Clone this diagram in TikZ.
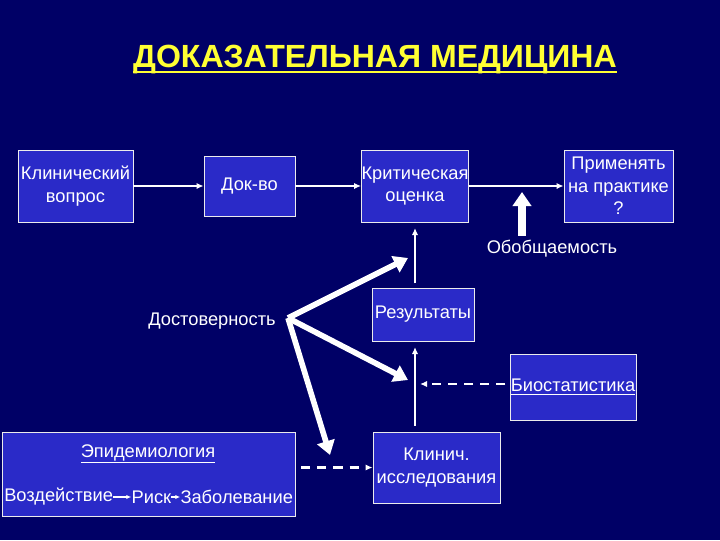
\documentclass[tikz,border=0pt]{standalone}
\usepackage{fontspec}
\setmainfont{Liberation Sans}
\usetikzlibrary{arrows.meta,positioning}
\definecolor{navybg}{HTML}{000066}
\definecolor{boxblue}{HTML}{2A2AC8}
\definecolor{titleyellow}{HTML}{FFFF33}

\begin{document}
\begin{tikzpicture}[
  x=0.025cm, y=-0.025cm,
  every node/.style={font=\fontsize{13}{16}\selectfont, text=white},
  box/.style={draw=white!85!gray, line width=0.6pt, fill=boxblue, align=center, inner sep=0pt},
  lbl/.style={inner sep=0pt},
  thin arrow/.style={white, line width=0.9pt, -{Latex[length=5pt,width=4.5pt]}},
  small arrow/.style={white, line width=0.8pt, -{Latex[length=3.5pt,width=3pt]}},
  dash arrow/.style={white, line width=1.5pt, dash pattern=on 6.5pt off 5pt, -{Latex[length=5pt,width=4.5pt]}},
  fat arrow/.style={white, line width=4pt, -{Triangle[length=10pt,width=12.5pt]}},
  big arrow/.style={white, line width=5.5pt, -{Triangle[length=10pt,width=13pt]}}
]

% background and frame
\fill[navybg] (0,0) rectangle (720,540);

\node[lbl, font=\fontsize{22.8}{26}\selectfont\bfseries, text=titleyellow] (title) at (375,59) {ДОКАЗАТЕЛЬНАЯ МЕДИЦИНА};
\draw[titleyellow, line width=1.7pt] ([yshift=-3.5pt]title.base west) -- ([yshift=-3.5pt]title.base east);

% top row
\node[box, minimum width=2.875cm, minimum height=1.8cm] (klin) at (75.5,186) {Клинический\\вопрос};
\node[box, minimum width=2.275cm, minimum height=1.5cm] (dok) at (249.5,186) {Док-во};
\node[box, minimum width=2.675cm, minimum height=1.8cm] (krit) at (415,186) {Критическая\\оценка};
\node[box, minimum width=2.725cm, minimum height=1.8cm] (prim) at (618.5,186) {Применять\\на практике\\?};
\node[lbl] (obob) at (552,249) {Обобщаемость};
\coordinate (obobtip) at (522,192);

% middle
\node[box, minimum width=2.55cm, minimum height=1.325cm] (rez) at (423,314.5) {Результаты};
\node[lbl, anchor=east] (dost) at (276,321) {Достоверность};
\coordinate (hub) at (288,318);
\coordinate (tipA) at (408,258);
\coordinate (tipB) at (408,380);
\coordinate (tipC) at (330,455);
\node[box, minimum width=3.15cm, minimum height=1.65cm] (bio) at (573,387) {\underline{Биостатистика}};
\coordinate (biotip) at (420,384);

% bottom
\node[box, minimum width=3.175cm, minimum height=1.775cm] (klinis) at (436.5,467.5) {Клинич.\\исследования};
\node[box, minimum width=7.325cm, minimum height=2.1cm] (epid) at (148.5,474) {};
\node[lbl] (epidtitle) at (148,454) {\underline{Эпидемиология}};
\node[lbl, anchor=west] (vozd) at (4,497) {Воздействие};
\node[lbl, right=0.45cm of vozd] (risk) {Риск};
\node[lbl, right=0.22cm of risk] (zabol) {Заболевание};

% connectors
\draw[thin arrow] (klin) -- (dok);
\draw[thin arrow] (dok) -- (krit);
\draw[thin arrow] (krit) -- (prim);
\draw[thin arrow, shorten <=3pt, shorten >=4pt] (krit.south |- rez.north) -- (krit.south);
\draw[thin arrow, shorten <=4pt, shorten >=4pt] (krit.south |- klinis.north) -- (krit.south |- rez.south);
\draw[big arrow, shorten <=3pt] (obob.north -| obobtip) -- (obobtip);

\draw[fat arrow] (hub) -- (tipA);
\draw[fat arrow] (hub) -- (tipB);
\draw[fat arrow] (hub) -- (tipC);

\draw[dash arrow, shorten <=3pt] (bio.west |- biotip) -- (biotip);
\draw[dash arrow, shorten <=4pt] (epid.east |- klinis.west) -- (klinis.west);

\draw[small arrow] (vozd) -- (risk);
\draw[small arrow] (risk) -- (zabol);

\end{tikzpicture}
\end{document}
